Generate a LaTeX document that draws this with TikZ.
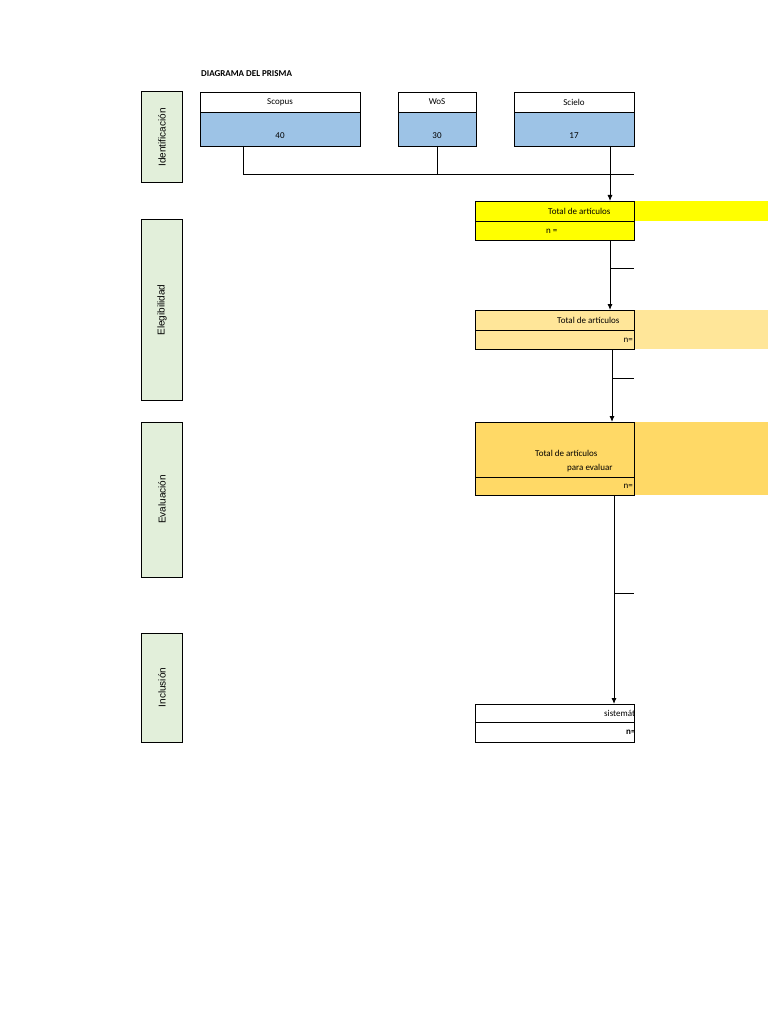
\documentclass[tikz,border=0pt]{standalone}
\usepackage{fontspec}
\setmainfont{Carlito}
\newfontfamily\sidefont{Liberation Sans}
\usetikzlibrary{arrows.meta}
\tikzset{
  cell/.style={draw=black,line width=0.9pt},
  side/.style={draw=black,line width=1pt,fill=green!10!white!90!lime!40},
  arr/.style={-{Latex[length=6pt,width=5pt]},line width=0.9pt},
  lnk/.style={line width=0.8pt},
  txt/.style={font=\fontsize{9}{10}\selectfont,inner sep=0pt},
}
\definecolor{blue1}{HTML}{9DC3E6}
\definecolor{yel1}{HTML}{FFFF00}
\definecolor{or1}{HTML}{FFE699}
\definecolor{or2}{HTML}{FFD966}
\definecolor{sidegreen}{HTML}{E2EFDA}
\begin{document}
\begin{tikzpicture}[x=1pt,y=-1pt]
\useasboundingbox (0,0) rectangle (768,1024);
% title
\node[txt,anchor=west,font=\bfseries\fontsize{9}{10}\selectfont] (title) at (201,74) {DIAGRAMA DEL PRISMA};
% side labels
\foreach \nm/\ya/\yb/\lab in {idn/92/183/Identificación, eleg/220/400/Elegibilidad, eval/422/577/Evaluación, incl/633/742/Inclusión}{
  \draw[line width=1pt,fill=sidegreen] (141,\ya) rectangle (182,\yb);
  \node[rotate=90,font=\sidefont\fontsize{10}{12}\selectfont] (\nm) at (162,{(\ya+\yb)/2}) {\lab};
}
% sources
\foreach \nm/\xa/\xb/\lab/\val in {scopus/200/360/Scopus/40, wos/398/476/WoS/30, scielo/514/634/Scielo/17}{
  \draw[cell,fill=blue1] (\xa,112) rectangle (\xb,146);
  \draw[cell] (\xa,92) rectangle (\xb,112);
  \node[txt] (\nm) at ({(\xa+\xb)/2},102) {\lab};
  \node[txt] (\nm v) at ({(\xa+\xb)/2},136) {\val};
}
% coloured bands
\fill[yel1] (475,201) rectangle (768,221);
\fill[yel1] (475,221) rectangle (634,240);
\fill[or1] (475,310) rectangle (768,349);
\fill[or2] (475,422) rectangle (768,495);
% boxes
\draw[cell] (475,201) rectangle (634,221);
\draw[cell] (475,221) rectangle (634,240);
\draw[cell] (475,310) rectangle (634,330);
\draw[cell] (475,330) rectangle (634,349);
\draw[cell] (475,422) rectangle (634,477);
\draw[cell] (475,477) rectangle (634,495);
\draw[cell] (475,704) rectangle (634,722);
\draw[cell] (475,722) rectangle (634,742);
% texts (cut at the column edge)
\begin{scope}
\clip (470,190) rectangle (633.5,750);
\node[txt,anchor=west] (tot1) at (548,211) {Total de artículos};
\node[txt,anchor=west] (n1) at (546,231) {n =};
\node[txt,anchor=west] (tot2) at (557,320) {Total de artículos};
\node[txt,anchor=east] (n2) at (633,340) {n=};
\node[txt,anchor=west] (tot3) at (535,453) {Total de artículos};
\node[txt,anchor=west] (par3) at (567,468) {para evaluar};
\node[txt,anchor=east] (n3) at (633,486) {n=};
\node[txt,anchor=west] (sis4) at (604,713) {sistemática};
\node[txt,anchor=west,font=\bfseries\fontsize{9}{10}\selectfont] (n4) at (626,732) {n=};
\end{scope}
% connectors
\coordinate (j1) at (243,174);
\coordinate (j2) at (437,174);
\coordinate (j3) at (610,174);
\coordinate (j4) at (634,174);
\draw[lnk] (243,146) -- (j1) -- (j4);
\draw[lnk] (437,146) -- (j2);
\draw[arr] (610,146) -- (610,201);
\draw[arr] (610,240) -- (610,310);
\draw[lnk] (610,268) -- (634,268);
\draw[arr] (612,349) -- (612,422);
\draw[lnk] (612,378) -- (634,378);
\draw[arr] (614,495) -- (614,704);
\draw[lnk] (614,593) -- (634,593);
\end{tikzpicture}
\end{document}
